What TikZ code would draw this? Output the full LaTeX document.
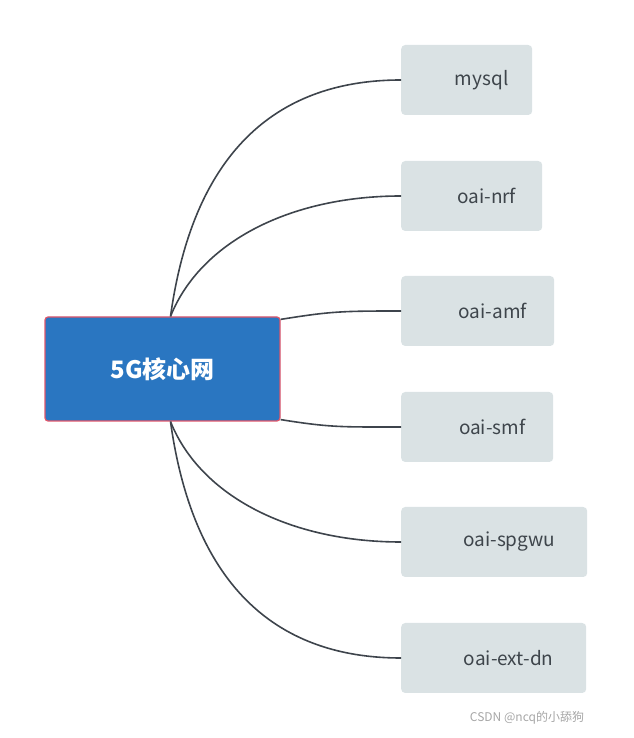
\documentclass[tikz,border=0pt]{standalone}
\usepackage{fontspec}
\setmainfont{Noto Sans CJK SC}
\begin{document}
\begin{tikzpicture}[x=1pt,y=1pt,
  leaf/.style={fill=leafc,rounded corners=4pt,anchor=west,minimum height=70pt,text=txt,font=\fontsize{19}{22}\selectfont,inner xsep=0pt},
  link/.style={draw=linec,line width=1.6pt}]
\definecolor{leafc}{HTML}{DAE2E4}
\definecolor{txt}{HTML}{3E454B}
\definecolor{linec}{HTML}{3E444C}
\definecolor{mainc}{HTML}{2A76C1}
\definecolor{bordc}{HTML}{E0566A}
\useasboundingbox (0,0) rectangle (633,738);
\node[fill=mainc,draw=bordc,line width=1.2pt,rounded corners=3pt,minimum width=235pt,minimum height=104pt,text=white,font=\bfseries\fontsize{24}{28}\selectfont] (c) at (162.5,369) {5G核心网};
\node[leaf,minimum width=131pt] (a) at (401,658) {\hspace*{30pt}mysql\hfill};
\node[leaf,minimum width=141pt] (b) at (401,542) {\hspace*{30pt}oai-nrf\hfill};
\node[leaf,minimum width=153pt] (d) at (401,427) {\hspace*{30pt}oai-amf\hfill};
\node[leaf,minimum width=152pt] (e) at (401,311) {\hspace*{30pt}oai-smf\hfill};
\node[leaf,minimum width=186pt] (f) at (401,196) {\hspace*{30pt}oai-spgwu\hfill};
\node[leaf,minimum width=185pt] (g) at (401,80) {\hspace*{30pt}oai-ext-dn\hfill};
\coordinate (ct) at ([xshift=8pt]c.north);
\coordinate (cb) at ([xshift=8pt]c.south);
\draw[link] (ct) .. controls +(25,180) and +(-110,0) .. (a.west);
\draw[link] (ct) .. controls +(30,75) and +(-110,0) .. (b.west);
\draw[link] ([yshift=-3pt]c.north east) .. controls +(50,8) and +(-60,0) .. (d.west);
\draw[link] ([yshift=2pt]c.south east) .. controls +(50,-8) and +(-60,0) .. (e.west);
\draw[link] (cb) .. controls +(30,-75) and +(-110,0) .. (f.west);
\draw[link] (cb) .. controls +(25,-180) and +(-110,0) .. (g.west);
\node[text=gray!70,font=\fontsize{12}{14}\selectfont] (w) at (527,20) {CSDN @ncq的小舔狗};
\end{tikzpicture}
\end{document}
